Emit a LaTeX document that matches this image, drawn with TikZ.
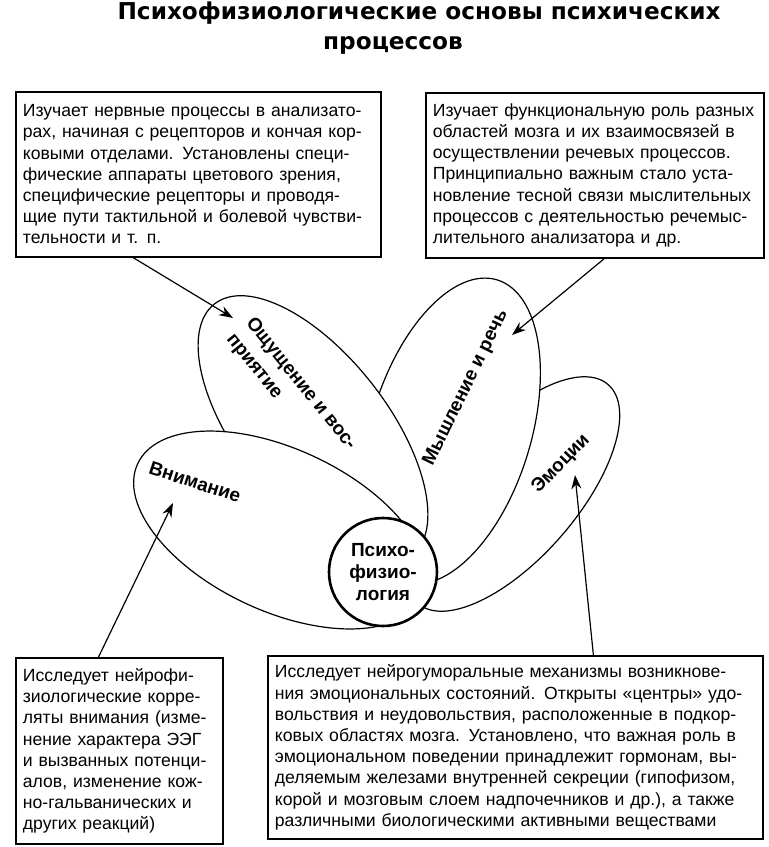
\documentclass[tikz,border=0pt]{standalone}
\usepackage{fontspec}
\setmainfont{Liberation Sans}
\newfontfamily\titlefont{DejaVu Sans}
\usetikzlibrary{positioning,shapes.geometric,calc,arrows.meta}
\setlength{\parindent}{0pt}
\newcommand{\jline}[1]{\makebox[\hsize][s]{#1}}
\tikzstyle{infobox}=[draw,line width=0.9pt,rectangle,anchor=north west,inner xsep=3.5pt,inner ysep=0pt,align=left,font=\fontsize{8.8}{10.6}\selectfont]
\tikzstyle{petal}=[draw,fill=white,ellipse,line width=0.6pt,inner sep=0pt]
\tikzstyle{petaltext}=[font=\fontsize{9.5}{12.5}\selectfont\bfseries,inner sep=0pt]
\tikzstyle{pointer}=[-{Stealth[length=7pt,width=5pt]},line width=0.6pt]

\begin{document}
\begin{tikzpicture}[x=0.5pt,y=-0.5pt]
    \useasboundingbox (0,0) rectangle (768,847);

    % title
    \node[anchor=base,font=\titlefont\fontsize{11.6}{14}\selectfont\bfseries] (title1) at (419,19) {Психофизиологические основы психических};
    \node[anchor=base,font=\titlefont\fontsize{11.6}{14}\selectfont\bfseries] (title2) at (393,49) {процессов};

    % boxes
    \node[infobox,text width=175.5pt,minimum height=82.5pt] (sensebox) at (15,91) {\jline{Изучает нервные процессы в анализато-}\\\jline{рах, начиная с рецепторов и кончая кор-}\\\jline{ковыми отделами. Установлены специ-}\\\jline{фические аппараты цветового зрения,}\\\jline{специфические рецепторы и проводя-}\\\jline{щие пути тактильной и болевой чувстви-}\\тельности и т. п.};

    \node[infobox,text width=162pt,minimum height=82.5pt] (thinkbox) at (425,92) {\jline{Изучает функциональную роль разных}\\\jline{областей мозга и их взаимосвязей в}\\\jline{осуществлении речевых процессов.}\\\jline{Принципиально важным стало уста-}\\\jline{новление тесной связи мыслительных}\\\jline{процессов с деятельностью речемыс-}\\лительного анализатора и др.};

    \node[infobox,text width=96.5pt,minimum height=93pt] (attnbox) at (15,657) {\jline{Исследует нейрофи-}\\\jline{зиологические корре-}\\\jline{ляты внимания (изме-}\\\jline{нение характера ЭЭГ}\\\jline{и вызванных потенци-}\\\jline{алов, изменение кож-}\\\jline{но-гальванических и}\\других реакций)};

    \node[infobox,text width=240.5pt,minimum height=91.5pt] (emobox) at (267,655) {\jline{Исследует нейрогуморальные механизмы возникнове-}\\\jline{ния эмоциональных состояний. Открыты «центры» удо-}\\\jline{вольствия и неудовольствия, расположенные в подкор-}\\\jline{ковых областях мозга. Установлено, что важная роль в}\\\jline{эмоциональном поведении принадлежит гормонам, вы-}\\\jline{деляемым железами внутренней секреции (гипофизом,}\\\jline{корой и мозговым слоем надпочечников и др.), а также}\\различными биологическими активными веществами};

    % petals, back to front
    \node[petal,minimum width=145pt,minimum height=64pt,rotate=49] (emo) at (513,494) {};
    \node[petal,minimum width=158pt,minimum height=80pt,rotate=73] (think) at (451,431) {};
    \node[petal,minimum width=160pt,minimum height=75pt,rotate=-52] (sense) at (313,430) {};
    \node[petal,minimum width=157pt,minimum height=81pt,rotate=-25] (attn) at (280,530) {};

    \node[circle,draw,fill=white,line width=1.3pt,minimum size=54pt,inner sep=0pt,align=center,font=\fontsize{9.5}{11}\selectfont\bfseries] (psycho) at (383,572) {Психо-\\физио-\\логия};

    % petal labels
    \node[petaltext,rotate=-18] (attntext) at (195,482) {Внимание};
    \node[petaltext,rotate=-51,align=left] (sensetext) at (291,392) {Ощущение и вос-\\приятие};
    \node[petaltext,rotate=64] (thinktext) at (466,388) {Мышление и речь};
    \node[petaltext,rotate=46] (emotext) at (561,464) {Эмоции};

    % arrows
    \coordinate (sensetip) at (233,318);
    \coordinate (thinktip) at (512,335);
    \coordinate (attntip) at (173,503);
    \coordinate (emotip) at (575,475);

    \draw[pointer] ($(sensebox.south west)!0.323!(sensebox.south east)$) -- (sensetip);
    \draw[pointer] ($(thinkbox.south west)!0.527!(thinkbox.south east)$) -- (thinktip);
    \draw[pointer] ($(attnbox.north west)!0.40!(attnbox.north east)$) -- (attntip);
    \draw[pointer] ($(emobox.north west)!0.657!(emobox.north east)$) -- (emotip);
\end{tikzpicture}
\end{document}
